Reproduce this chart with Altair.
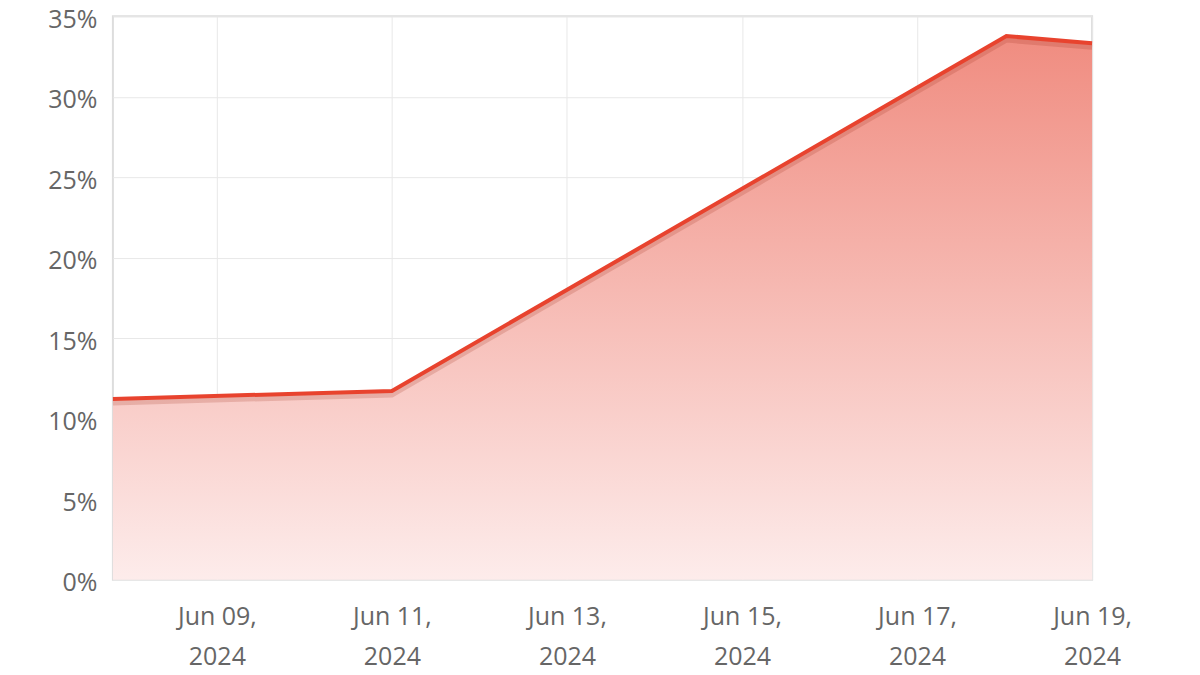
import altair as alt
import pandas as pd

dates = ["2024-06-07T19:30:00", "2024-06-11T00:00:00", "2024-06-18T00:30:00", "2024-06-19T00:00:00"]
values = [0.1123, 0.1173, 0.3377, 0.3333]
x_ticks = ["2024-06-09", "2024-06-11", "2024-06-13", "2024-06-15", "2024-06-17", "2024-06-19"]
y_ticks = [0, 0.05, 0.10, 0.15, 0.20, 0.25, 0.30, 0.35]

df = pd.DataFrame({"date": pd.to_datetime(dates), "value": values})

tick_dt = [alt.DateTime(year=2024, month=6, date=int(t[-2:])) for t in x_ticks]

x = alt.X(
    "date:T",
    scale=alt.Scale(domain=[alt.DateTime(year=2024, month=6, date=7, hours=19, minutes=30),
                            alt.DateTime(year=2024, month=6, date=19)]),
    axis=alt.Axis(
        values=tick_dt,
        labelExpr="[timeFormat(datum.value, '%b %d,'), timeFormat(datum.value, '%Y')]",
        title=None, ticks=False, domain=False, labelPadding=25,
        labelLineHeight=40, labelFontSize=25, labelColor="#666666",
        labelFont="Open Sans", gridColor="#e8e8e8", labelFlush=False,
    ),
)
y = alt.Y(
    "value:Q",
    scale=alt.Scale(domain=[0, 0.35], nice=False),
    axis=alt.Axis(
        values=y_ticks, format=".0%", title=None, ticks=False, domain=False,
        labelPadding=16, labelFontSize=25, labelColor="#666666", labelOffset=3,
        labelFont="Open Sans", gridColor="#e8e8e8",
    ),
)

area = alt.Chart(df).mark_area(
    line=False,
    color=alt.Gradient(
        gradient="linear",
        stops=[alt.GradientStop(color="#f08c80", offset=0),
               alt.GradientStop(color="#fdeceb", offset=1)],
        x1=0, x2=0, y1=0, y2=1,
    ),
    opacity=1,
).encode(x=x, y=y)

shadow = alt.Chart(df).mark_line(color="#a03020", strokeWidth=5, opacity=0.2).encode(
    x=x, y=y, yOffset=alt.value(4)
)

line = alt.Chart(df).mark_line(color="#e8432e", strokeWidth=4).encode(x=x, y=y)

chart = (area + shadow + line).properties(
    width=980, height=564,
    autosize=alt.AutoSizeParams(type="none"),
    padding={"left": 105, "top": 8, "right": 100, "bottom": 100},
).configure_view(stroke="#dddddd", strokeWidth=2)

chart.save("out.html", embed_options={"renderer": "svg", "actions": False})
